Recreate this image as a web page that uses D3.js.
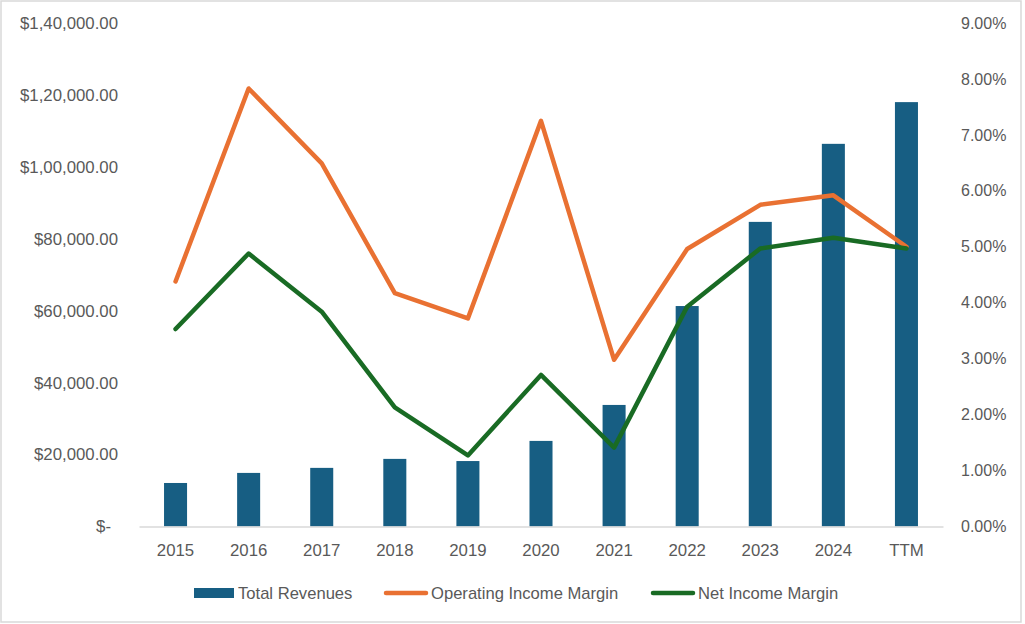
<!DOCTYPE html>
<html>
<head>
<meta charset="utf-8">
<script src="https://cdn.jsdelivr.net/npm/d3@7"></script>
<style>
  body { margin: 0; background: #fff; }
  text { font-family: "Liberation Sans", Arial, sans-serif; }
</style>
</head>
<body>
<div id="chart"></div>
<script>
// values
var categories = ["2015", "2016", "2017", "2018", "2019", "2020", "2021", "2022", "2023", "2024", "TTM"];
var totalRevenues = [12100, 14900, 16300, 18800, 18200, 23800, 33800, 61300, 84700, 106400, 118000];
var operatingMargin = [4.38, 7.83, 6.49, 4.17, 3.72, 7.25, 2.98, 4.96, 5.75, 5.92, 5.00];
var netMargin = [3.53, 4.88, 3.84, 2.13, 1.27, 2.71, 1.41, 3.93, 4.97, 5.16, 4.97];
var leftTicks = [0, 20000, 40000, 60000, 80000, 100000, 120000, 140000];
var rightTicks = [0, 1, 2, 3, 4, 5, 6, 7, 8, 9];
var seriesNames = ["Total Revenues", "Operating Income Margin", "Net Income Margin"];

var width = 1025, height = 624;
// plot area (window.top is taken, so no plain "top")
var plotLeft = 139, plotRight = 943, plotTop = 23, plotBottom = 526.5;
var textColor = "#595959";
var barColor = "#175E83", opColor = "#E97132", netColor = "#196B24";

var svg = d3.select("#chart").append("svg")
    .attr("width", width)
    .attr("height", height);

// chart border
svg.append("rect")
    .attr("x", 1).attr("y", 1)
    .attr("width", 1020).attr("height", 621)
    .attr("fill", "#fff")
    .attr("stroke", "#D9D9D9")
    .attr("stroke-width", 1.5);

var x = d3.scaleBand()
    .domain(categories)
    .range([plotLeft, plotRight])
    .paddingInner(0.685)
    .paddingOuter(0.3425);

var yLeft = d3.scaleLinear().domain([0, 140000]).range([plotBottom, plotTop]);
var yRight = d3.scaleLinear().domain([0, 9]).range([plotBottom, plotTop]);

// indian style digit grouping: 1,40,000.00
var locale = d3.formatLocale({decimal: ".", thousands: ",", grouping: [3, 2], currency: ["$", ""]});
var money = locale.format("$,.2f");

var cx = function(i){ return x(categories[i]) + x.bandwidth() / 2; };

// bars
svg.append("g").selectAll("rect")
    .data(totalRevenues)
    .enter()
    .append("rect")
    .attr("x", function(d,i){ return x(categories[i]); })
    .attr("y", function(d){ return yLeft(d); })
    .attr("width", x.bandwidth())
    .attr("height", function(d){ return plotBottom - yLeft(d); })
    .attr("fill", barColor);

// bottom axis
var xAxis = svg.append("g")
    .attr("transform", "translate(0," + plotBottom + ")")
    .call(d3.axisBottom(x).tickSize(0).tickPadding(18));
xAxis.select(".domain").attr("stroke", "#D9D9D9").attr("stroke-width", 1.5);
xAxis.selectAll("text").attr("fill", textColor).attr("font-size", 16.8).attr("font-family", null);

// left axis
var yAxisL = svg.append("g")
    .attr("transform", "translate(" + plotLeft + ",0)")
    .call(d3.axisLeft(yLeft).tickValues(leftTicks).tickSize(0).tickPadding(21)
        .tickFormat(function(d){ return d === 0 ? "$-" : money(d); }));
yAxisL.select(".domain").remove();
yAxisL.selectAll("text").attr("fill", textColor).attr("font-size", 16.8).attr("font-family", null)
    .attr("x", function(d){ return d === 0 ? -28 : -21; });

// right axis
var yAxisR = svg.append("g")
    .attr("transform", "translate(" + plotRight + ",0)")
    .call(d3.axisRight(yRight).tickValues(rightTicks).tickSize(0).tickPadding(18)
        .tickFormat(function(d){ return d.toFixed(2) + "%"; }));
yAxisR.select(".domain").remove();
yAxisR.selectAll("text").attr("fill", textColor).attr("font-size", 16).attr("font-family", null);

// margin lines
var line = d3.line()
    .x(function(d,i){ return cx(i); })
    .y(function(d){ return yRight(d); });

[[operatingMargin, opColor], [netMargin, netColor]].forEach(function(s){
    svg.append("path")
        .datum(s[0])
        .attr("d", line)
        .attr("fill", "none")
        .attr("stroke", s[1])
        .attr("stroke-width", 4.5)
        .attr("stroke-linejoin", "round")
        .attr("stroke-linecap", "round");
});

// legend
var legendY = 593;
var legendX = [194, 384, 651];
var legend = svg.append("g").selectAll("g")
    .data(seriesNames)
    .enter()
    .append("g")
    .attr("transform", function(d,i){ return "translate(" + legendX[i] + "," + legendY + ")"; });

legend.each(function(d,i){
    var g = d3.select(this);
    if(i === 0){
        g.append("rect")
            .attr("x", 0).attr("y", -5)
            .attr("width", 40).attr("height", 10)
            .attr("fill", barColor);
    }
    else{
        g.append("line")
            .attr("x1", 2).attr("x2", 42)
            .attr("y1", 0).attr("y2", 0)
            .attr("stroke", i === 1 ? opColor : netColor)
            .attr("stroke-width", 4.5)
            .attr("stroke-linecap", "round");
    }
    g.append("text")
        .attr("x", i === 0 ? 44 : 47)
        .attr("dy", "0.35em")
        .attr("fill", textColor)
        .attr("font-size", 16.6)
        .text(d);
});
</script>
</body>
</html>
